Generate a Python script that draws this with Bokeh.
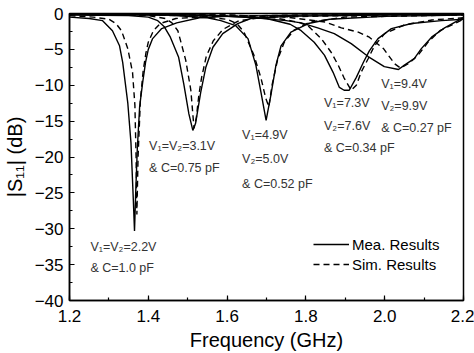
from bokeh.plotting import figure
from bokeh.models import Range1d, Legend, LegendItem, SingleIntervalTicker, NumeralTickFormatter
from bokeh.core.properties import value
from bokeh.embed import file_html
from bokeh.resources import INLINE

# ---- data (frequency in GHz, |S11| in dB) ----
mea1_f = [1.20, 1.25, 1.284, 1.309, 1.327, 1.335, 1.348, 1.356, 1.362, 1.365, 1.368, 1.372, 1.378, 1.386, 1.393, 1.40, 1.411, 1.434, 1.472, 1.53, 1.60, 1.80, 2.20]
mea1_db = [-0.5, -0.7, -1.0, -2.4, -4.5, -6.8, -12.5, -18, -26, -30.3, -25, -19, -13, -9.5, -6.8, -5.0, -3.5, -2.1, -1.3, -0.6, -0.4, -0.2, -0.1]
sim1_f = [1.20, 1.26, 1.30, 1.318, 1.332, 1.348, 1.36, 1.366, 1.369, 1.371, 1.374, 1.38, 1.387, 1.394, 1.40, 1.413, 1.43, 1.47, 1.55, 1.80, 2.20]
sim1_db = [-0.3, -0.5, -0.8, -1.4, -2.4, -4.9, -8.2, -12.8, -20, -28, -20, -12, -8, -5.5, -4, -2.4, -1.4, -0.7, -0.4, -0.2, -0.1]

mea2_f = [1.20, 1.35, 1.40, 1.424, 1.44, 1.456, 1.477, 1.49, 1.503, 1.513, 1.52, 1.533, 1.546, 1.564, 1.589, 1.627, 1.66, 1.75, 2.00, 2.20]
mea2_db = [-0.2, -0.3, -0.5, -1.0, -1.8, -3.3, -6.1, -9.8, -14, -16.3, -15.3, -11, -7.5, -4.7, -2.8, -1.4, -0.7, -0.4, -0.2, -0.1]
sim2_f = [1.20, 1.40, 1.444, 1.46, 1.475, 1.495, 1.508, 1.516, 1.522, 1.528, 1.535, 1.547, 1.565, 1.59, 1.63, 1.70, 2.00, 2.20]
sim2_db = [-0.1, -0.3, -0.7, -1.3, -2.4, -6.5, -10.7, -16, -14.5, -11.5, -9, -6, -3.8, -2.2, -1.0, -0.5, -0.2, -0.1]

mea3_f = [1.20, 1.45, 1.55, 1.584, 1.622, 1.653, 1.673, 1.686, 1.699, 1.711, 1.724, 1.737, 1.762, 1.806, 1.86, 2.00, 2.20]
mea3_db = [-0.1, -0.2, -0.6, -1.0, -1.7, -3.5, -7.2, -11, -14.9, -11.4, -7.2, -4.5, -2.6, -1.4, -0.8, -0.4, -0.2]
sim3_f = [1.20, 1.50, 1.60, 1.625, 1.643, 1.668, 1.686, 1.698, 1.706, 1.714, 1.728, 1.745, 1.77, 1.81, 1.90, 2.20]
sim3_db = [-0.1, -0.3, -0.8, -1.4, -2.6, -5.8, -9, -11.8, -13, -10, -6.5, -4, -2.3, -1.2, -0.5, -0.2]

mea4_f = [1.20, 1.55, 1.70, 1.76, 1.788, 1.821, 1.847, 1.869, 1.885, 1.897, 1.91, 1.928, 1.946, 1.961, 1.983, 2.017, 2.068, 2.144, 2.20]
mea4_db = [-0.1, -0.2, -0.7, -1.5, -2.4, -4.0, -5.8, -8.2, -10.3, -10.7, -10.7, -8.9, -6.8, -5.2, -3.5, -2.1, -1.4, -1.0, -0.8]
sim4_f = [1.20, 1.60, 1.72, 1.78, 1.805, 1.839, 1.864, 1.882, 1.897, 1.915, 1.928, 1.94, 1.958, 1.974, 2.00, 2.05, 2.12, 2.20]
sim4_db = [-0.1, -0.2, -0.6, -1.2, -1.7, -3.5, -5.4, -7.2, -9, -10.7, -10, -8.2, -6.3, -4.5, -2.8, -1.6, -0.9, -0.6]

mea5_f = [1.20, 1.50, 1.65, 1.75, 1.788, 1.83, 1.872, 1.915, 1.958, 1.999, 2.035, 2.05, 2.075, 2.093, 2.119, 2.152, 2.195, 2.20]
mea5_db = [-0.1, -0.2, -0.5, -1.0, -1.3, -2.0, -2.8, -4.2, -6.0, -7.4, -7.8, -7.2, -6.3, -4.9, -3.3, -2.0, -0.7, -0.6]
sim5_f = [1.20, 1.60, 1.75, 1.85, 1.89, 1.933, 1.961, 1.997, 2.009, 2.025, 2.04, 2.06, 2.085, 2.11, 2.14, 2.20]
sim5_db = [-0.1, -0.2, -0.5, -1.2, -2.0, -2.6, -3.3, -4.9, -5.8, -7.0, -7.6, -7.0, -5.8, -4.0, -2.4, -0.8]

mea_f = [mea1_f, mea2_f, mea3_f, mea4_f, mea5_f]
mea_db = [mea1_db, mea2_db, mea3_db, mea4_db, mea5_db]
sim_f = [sim1_f, sim2_f, sim3_f, sim4_f, sim5_f]
sim_db = [sim1_db, sim2_db, sim3_db, sim4_db, sim5_db]

label_text = ["V\u2081=V\u2082=2.2V", "& C=1.0 pF",
              "V\u2081=V\u2082=3.1V", "& C=0.75 pF",
              "V\u2081=4.9V", "V\u2082=5.0V", "& C=0.52 pF",
              "V\u2081=7.3V", "V\u2082=7.6V", "& C=0.34 pF",
              "V\u2081=9.4V", "V\u2082=9.9V", "& C=0.27 pF"]
label_f = [1.253, 1.253, 1.402, 1.402, 1.638, 1.638, 1.638, 1.846, 1.846, 1.846, 1.991, 1.991, 1.991]
label_db = [-32.6, -35.5, -18.5, -21.5, -17.0, -20.3, -23.8, -12.5, -15.7, -18.7, -9.8, -12.9, -15.9]

legend_labels = ["Mea. Results", "Sim. Results"]

# ---- figure ----
p = figure(width=474, height=353, output_backend="svg", toolbar_location=None,
           x_range=Range1d(1.2, 2.2), y_range=Range1d(-40, 0),
           min_border_left=69, min_border_right=11, min_border_top=13, min_border_bottom=53)
p.background_fill_color = "white"
p.border_fill_color = "white"
p.grid.visible = False
p.outline_line_color = "black"
p.outline_line_width = 1.5

FONT = "Liberation Sans"

mea_renderers = []
sim_renderers = []
for f, d in zip(mea_f, mea_db):
    mea_renderers.append(p.line(f, d, line_color="black", line_width=1.4))
for f, d in zip(sim_f, sim_db):
    sim_renderers.append(p.line(f, d, line_color="black", line_width=1.4, line_dash="6 4"))

p.text(x=label_f, y=label_db, text=label_text, text_font=value(FONT),
       text_font_size="12.5px", text_color="#333333", text_baseline="middle", text_align="left")

for ax in (p.xaxis[0], p.yaxis[0]):
    ax.axis_line_width = 1.5
    ax.major_tick_in = 5
    ax.major_tick_out = 0
    ax.minor_tick_in = 3
    ax.minor_tick_out = 0
    ax.major_tick_line_width = 1.2
    ax.minor_tick_line_width = 1.2
    ax.major_label_text_font = FONT
    ax.major_label_text_font_size = "17px"
    ax.major_label_text_color = "black"
    ax.axis_label_text_font = FONT
    ax.axis_label_text_font_size = "20px"
    ax.axis_label_text_font_style = "normal"
    ax.axis_label_text_color = "black"

p.xaxis.ticker = SingleIntervalTicker(interval=0.2, num_minor_ticks=2)
p.yaxis.ticker = SingleIntervalTicker(interval=5, num_minor_ticks=2)
p.xaxis.formatter = NumeralTickFormatter(format="0.0")
p.xaxis.major_label_standoff = 9
p.yaxis.major_label_standoff = 6
p.xaxis.axis_label = "Frequency (GHz)"
p.yaxis.axis_label = "|S\u2081\u2081| (dB)"
p.xaxis.axis_label_standoff = 4
p.yaxis.axis_label_standoff = 6

legend = Legend(items=[LegendItem(label=legend_labels[0], renderers=[mea_renderers[0]]),
                       LegendItem(label=legend_labels[1], renderers=[sim_renderers[0]])],
                location=(244, 26), padding=0, margin=0, spacing=0,
                glyph_width=36, glyph_height=20, label_height=20, label_standoff=3,
                label_text_font=FONT, label_text_font_size="15px", label_text_color="black",
                border_line_color=None, background_fill_alpha=0)
p.add_layout(legend)

open("out.html", "w").write(file_html(p, INLINE))
